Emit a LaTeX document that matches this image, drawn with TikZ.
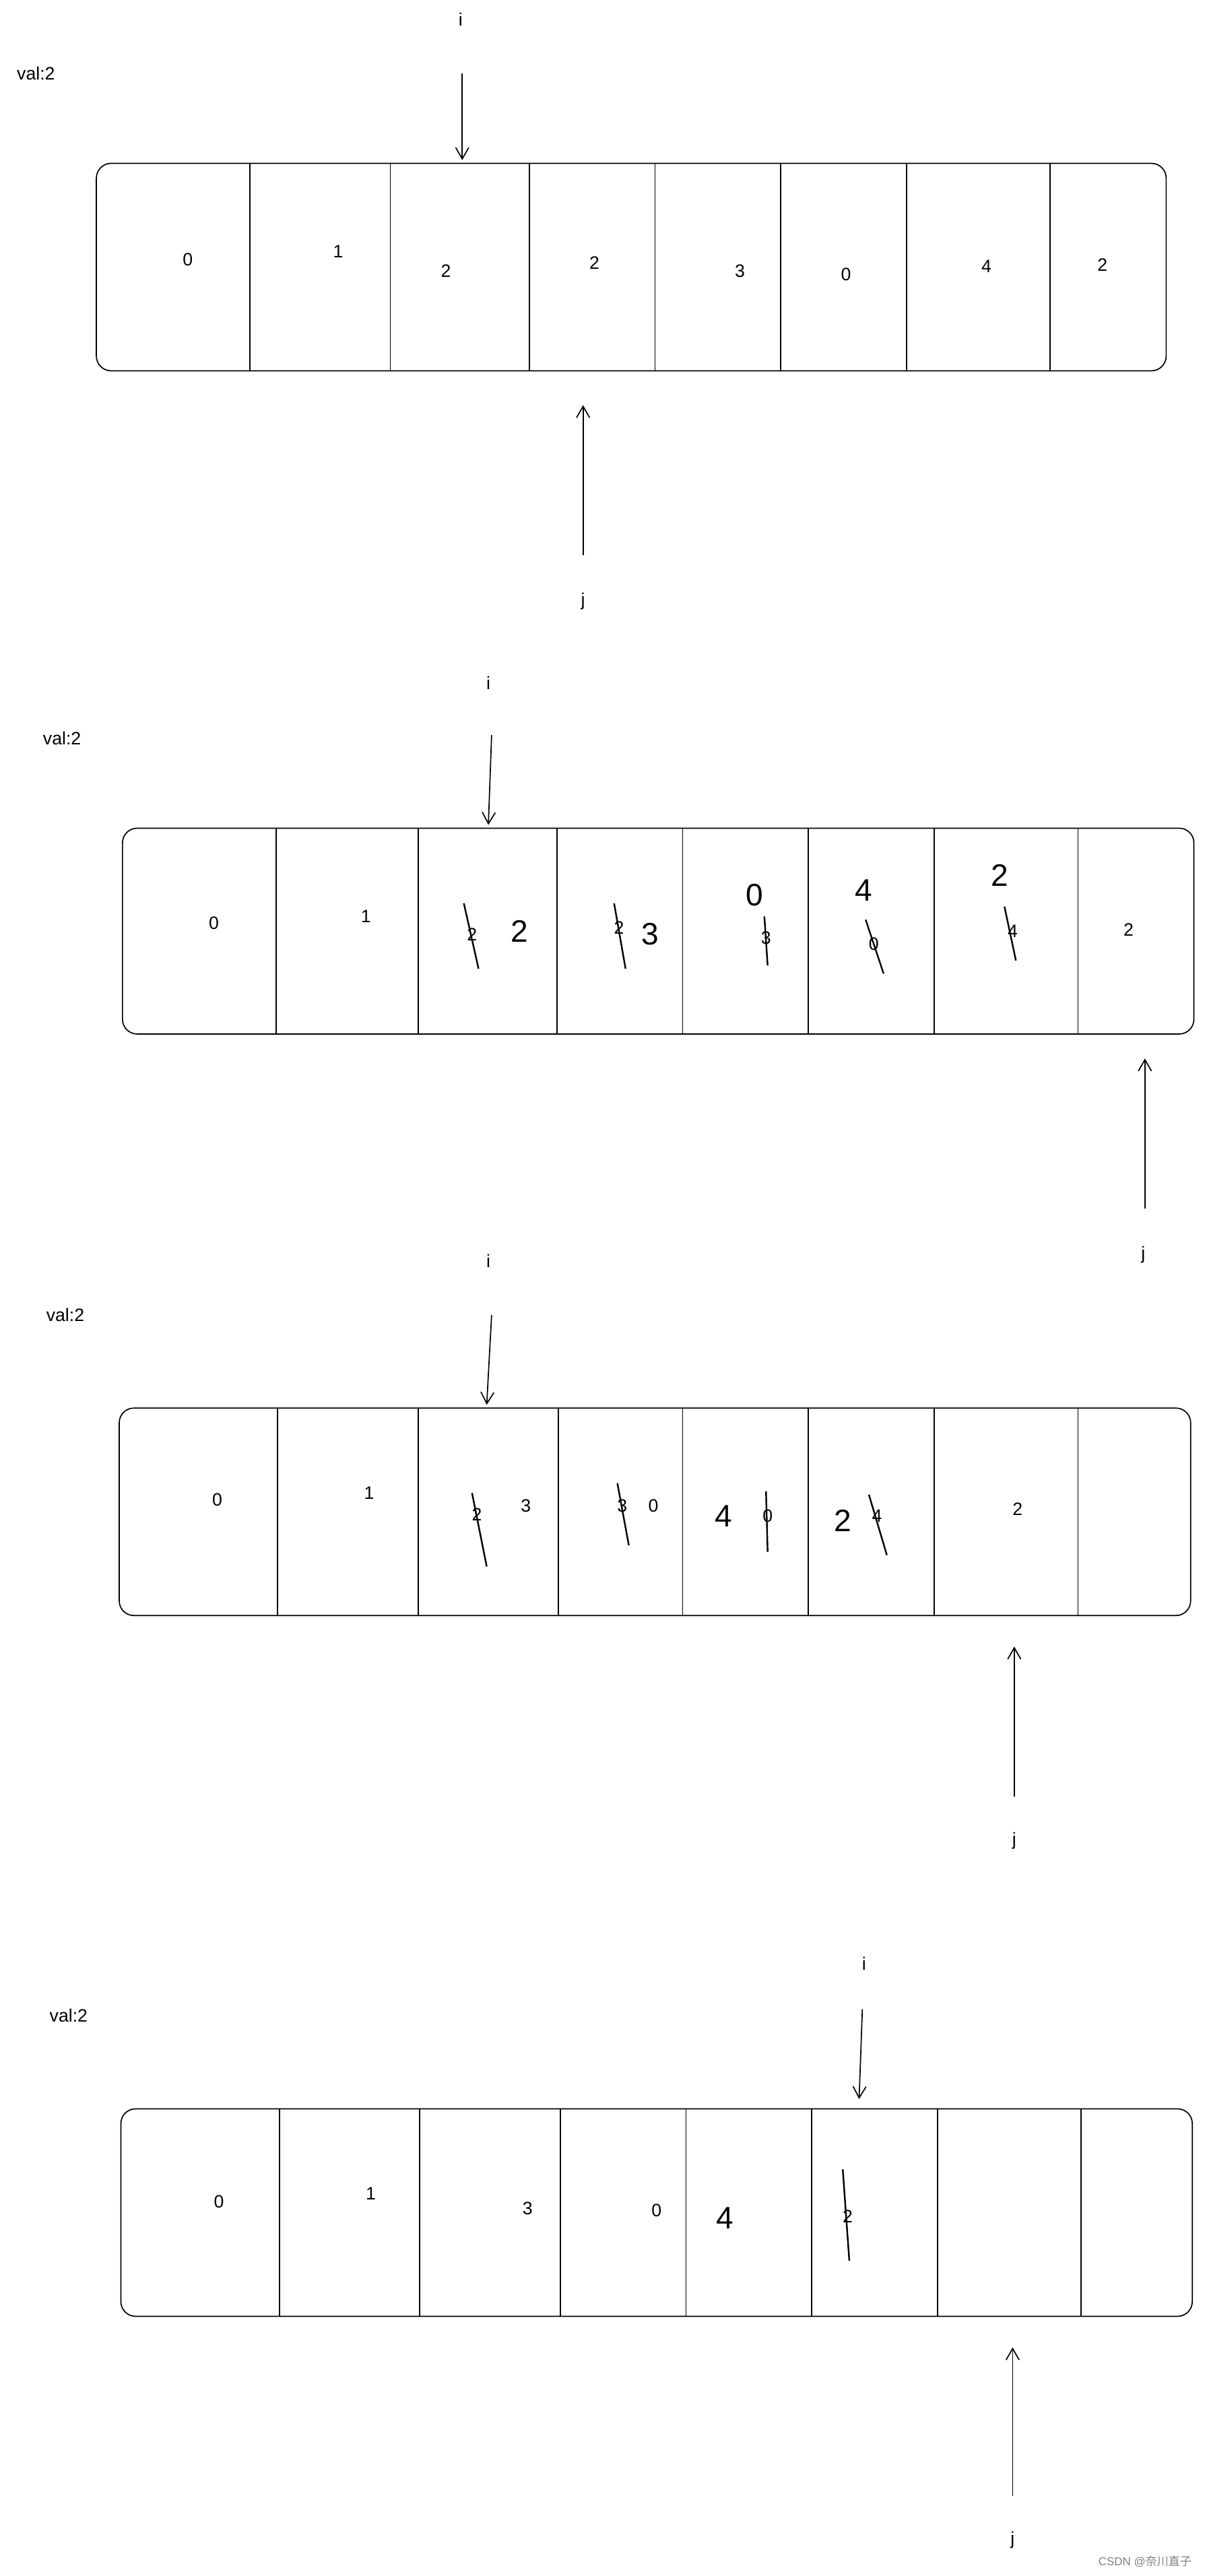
\documentclass[tikz,border=0pt]{standalone}
\usepackage{fontspec}
\usetikzlibrary{arrows.meta}
\setmainfont{Liberation Sans}
\newfontfamily\cjk{Noto Sans CJK SC}
\begin{document}
\begin{tikzpicture}[x=1pt,y=-1pt,
  arr/.style={rounded corners=9pt,draw,line width=0.7pt},
  dv/.style={line width=0.7pt},
  ptr/.style={-{Straight Barb[length=7pt,width=8pt]},line width=0.7pt},
  lab/.style={font=\fontsize{11}{11}\selectfont},
  dg/.style={font=\fontsize{11}{11}\selectfont},
  big/.style={font=\fontsize{19}{19}\selectfont},
  strike/.style={line width=1pt}]
\useasboundingbox (0,0) rectangle (739,1577);
% ---------- array 1
\node[lab] (v1) at (22,45) {val:2};
\draw[arr] (59,100) rectangle (714,227);
\foreach \x in {153,239,324,401,478,555,643}{\draw[dv] (\x,100) -- (\x,227);}
\node[dg] (a10) at (115,159) {0};
\node[dg] (a11) at (207,154) {1};
\node[dg] (a12) at (273,166) {2};
\node[dg] (a13) at (364,161) {2};
\node[dg] (a14) at (453,166) {3};
\node[dg] (a15) at (518,168) {0};
\node[dg] (a16) at (604,163) {4};
\node[dg] (a17) at (675,162) {2};
\node[lab] (i1) at (282,12) {i};
\coordinate (i1s) at (283,45); \coordinate (i1e) at (283,98);
\draw[ptr] (i1s) -- (i1e);
\node[lab] (j1) at (357,368) {j};
\coordinate (j1s) at (357,340); \coordinate (j1e) at (357,248);
\draw[ptr] (j1s) -- (j1e);
% ---------- array 2
\node[lab] (v2) at (38,452) {val:2};
\draw[arr] (75,507) rectangle (731,633);
\foreach \x in {169,256,341,418,495,572,660}{\draw[dv] (\x,507) -- (\x,633);}
\node[dg] (a20) at (131,565) {0};
\node[dg] (a21) at (224,561) {1};
\node[dg] (a22) at (289,572) {2}; \draw[strike] (284,553) -- (293,593);
\node[big] (a22n) at (318,570) {2};
\node[dg] (a23) at (379,568) {2}; \draw[strike] (376,553) -- (383,593);
\node[big] (a23n) at (398,572) {3};
\node[big] (a24n) at (462,548) {0};
\node[dg] (a24) at (469,574) {3}; \draw[strike] (468,561) -- (470,591);
\node[big] (a25n) at (529,545) {4};
\node[dg] (a25) at (535,578) {0}; \draw[strike] (530,563) -- (541,596);
\node[big] (a26n) at (612,536) {2};
\node[dg] (a26) at (620,570) {4}; \draw[strike] (615,555) -- (622,588);
\node[dg] (a27) at (691,569) {2};
\node[lab] (i2) at (299,418) {i};
\coordinate (i2s) at (301,450); \coordinate (i2e) at (299,505);
\draw[ptr] (i2s) -- (i2e);
\node[lab] (j2) at (700,768) {j};
\coordinate (j2s) at (701,740); \coordinate (j2e) at (701,648);
\draw[ptr] (j2s) -- (j2e);
% ---------- array 3
\node[lab] (v3) at (40,805) {val:2};
\draw[arr] (73,862) rectangle (729,989);
\foreach \x in {170,256,342,418,495,572,660}{\draw[dv] (\x,862) -- (\x,989);}
\node[dg] (a30) at (133,918) {0};
\node[dg] (a31) at (226,914) {1};
\node[dg] (a32) at (292,927) {2}; \draw[strike] (289,914) -- (298,959);
\node[dg] (a32n) at (322,922) {3};
\node[dg] (a33) at (381,922) {3}; \draw[strike] (378,908) -- (385,946);
\node[dg] (a33n) at (400,922) {0};
\node[big] (a34n) at (443,928) {4};
\node[dg] (a34) at (470,928) {0}; \draw[strike] (469,913) -- (470,950);
\node[big] (a35n) at (516,931) {2};
\node[dg] (a35) at (537,928) {4}; \draw[strike] (532,915) -- (543,952);
\node[dg] (a36) at (623,924) {2};
\node[lab] (i3) at (299,772) {i};
\coordinate (i3s) at (301,805); \coordinate (i3e) at (298,860);
\draw[ptr] (i3s) -- (i3e);
\node[lab] (j3) at (621,1127) {j};
\coordinate (j3s) at (621,1100); \coordinate (j3e) at (621,1008);
\draw[ptr] (j3s) -- (j3e);
% ---------- array 4
\node[lab] (v4) at (42,1234) {val:2};
\draw[arr] (74,1291) rectangle (730,1418);
\foreach \x in {171,257,343,420,497,574,662}{\draw[dv] (\x,1291) -- (\x,1418);}
\node[dg] (a40) at (134,1348) {0};
\node[dg] (a41) at (227,1343) {1};
\node[dg] (a42) at (323,1352) {3};
\node[dg] (a43) at (402,1353) {0};
\node[big] (a44) at (444,1358) {4};
\node[dg] (a45) at (519,1357) {2}; \draw[strike] (516,1328) -- (520,1384);
\node[lab] (i4) at (529,1202) {i};
\coordinate (i4s) at (528,1230); \coordinate (i4e) at (526,1285);
\draw[ptr] (i4s) -- (i4e);
\node[lab] (j4) at (620,1555) {j};
\coordinate (j4s) at (620,1528); \coordinate (j4e) at (620,1437);
\draw[ptr] (j4s) -- (j4e);
\node[font=\fontsize{7}{7}\selectfont,text=gray] (wm) at (701,1568) {CSDN @{\cjk 奈川直子}};
\end{tikzpicture}
\end{document}
